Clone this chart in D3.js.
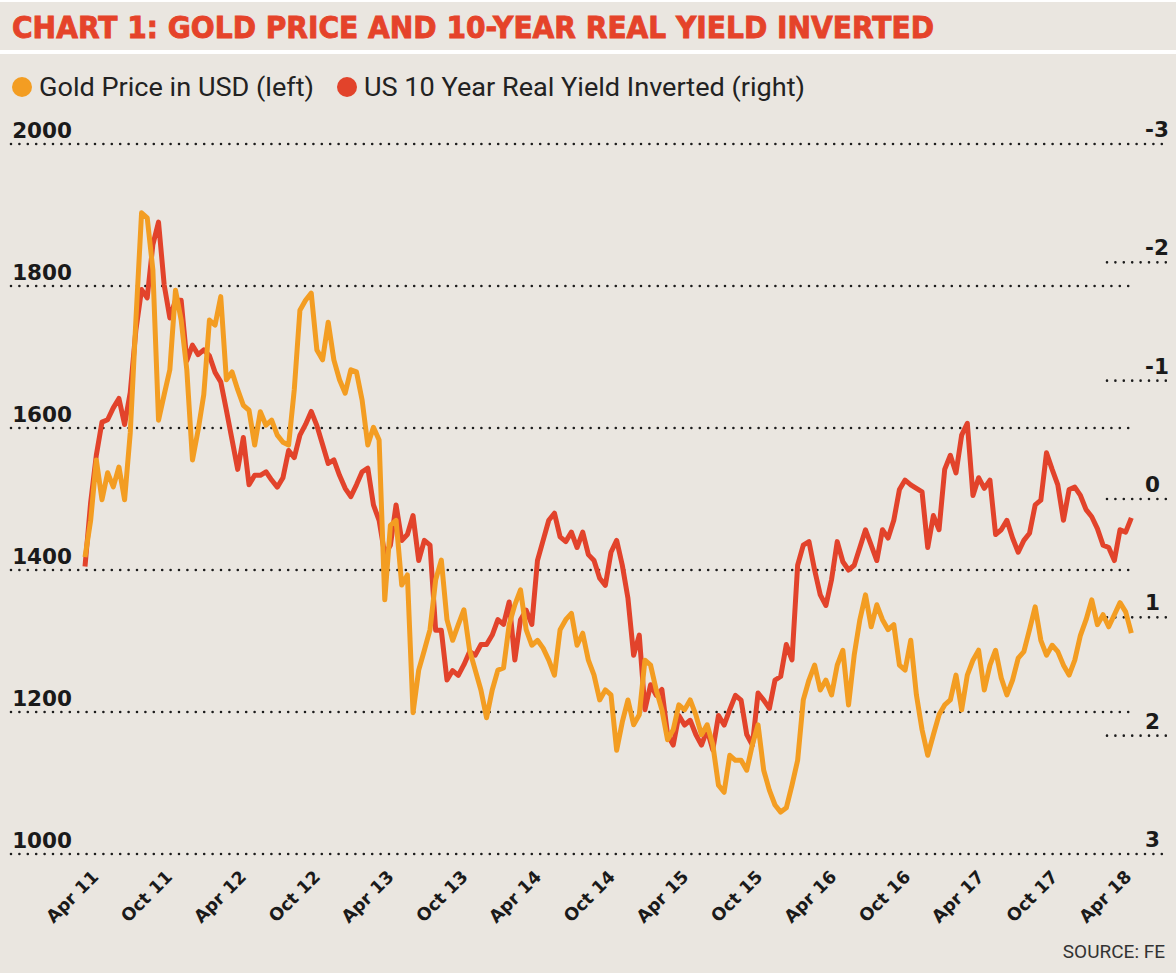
<!DOCTYPE html>
<html>
<head>
<meta charset="utf-8">
<script src="https://cdn.jsdelivr.net/npm/d3@7"></script>
<style>
  body { margin: 0; background: #eae6e0; }
  svg { display: block; }
</style>
</head>
<body>
<div id="chart"></div>
<script>
// fortnightly readings, first one at 1 Apr 2011
var startDate = new Date(2011, 3, 1)
var stepDays = 14

// gold price, USD (left axis)
var gold = [
  1418, 1470, 1555, 1499, 1537, 1517, 1545, 1499, 1593, 1752,
  1903, 1896, 1823, 1611, 1647, 1682, 1794, 1752, 1682, 1555,
  1597, 1647, 1752, 1745, 1785, 1668, 1679, 1654, 1632, 1625,
  1576, 1623, 1604, 1611, 1590, 1580, 1576, 1654, 1766, 1780,
  1790, 1710, 1696, 1749, 1696, 1668, 1649, 1682, 1679, 1639,
  1576, 1601, 1583, 1358, 1463, 1470, 1379, 1393, 1199, 1259,
  1287, 1316, 1386, 1414, 1330, 1301, 1323, 1344, 1287, 1259,
  1231, 1192, 1231, 1259, 1262, 1323, 1351, 1372, 1316, 1294,
  1301, 1290, 1273, 1252, 1316, 1330, 1339, 1294, 1311, 1273,
  1252, 1217, 1231, 1224, 1146, 1186, 1217, 1182, 1196, 1273,
  1266, 1231, 1203, 1161, 1175, 1210, 1203, 1217, 1196, 1168,
  1182, 1154, 1097, 1087, 1139, 1132, 1132, 1118, 1154, 1182,
  1118, 1090, 1069, 1059, 1065, 1097, 1132, 1217, 1245, 1266,
  1231, 1245, 1224, 1266, 1287, 1210, 1280, 1330, 1365, 1320,
  1351, 1330, 1316, 1323, 1266, 1259, 1301, 1224, 1175, 1139,
  1168, 1196, 1210, 1217, 1252, 1203, 1252, 1273, 1287, 1231,
  1266, 1287, 1248, 1224, 1245, 1276, 1285, 1316, 1348, 1301,
  1280, 1294, 1285, 1266, 1252, 1273, 1308, 1330, 1358, 1323,
  1337, 1320, 1337, 1354, 1341, 1311
]

// US 10 year real yield, % (right axis, drawn inverted)
var realYield = [
  0.57, 0.03, -0.37, -0.65, -0.67, -0.77, -0.85, -0.63, -0.90, -1.43,
  -1.77, -1.70, -2.15, -2.34, -1.81, -1.53, -1.68, -1.68, -1.17, -1.30,
  -1.22, -1.26, -1.21, -1.07, -0.99, -0.75, -0.50, -0.25, -0.52, -0.12,
  -0.20, -0.20, -0.23, -0.16, -0.10, -0.18, -0.41, -0.35, -0.54, -0.63,
  -0.74, -0.62, -0.46, -0.30, -0.33, -0.20, -0.09, -0.02, -0.12, -0.23,
  -0.26, 0.05, 0.18, 0.47, 0.39, 0.05, 0.35, 0.30, 0.14, 0.52,
  0.35, 0.39, 1.11, 1.11, 1.53, 1.45, 1.49, 1.40, 1.29, 1.32,
  1.23, 1.23, 1.15, 1.02, 1.06, 0.87, 1.36, 1.02, 0.94, 1.06,
  0.52, 0.35, 0.18, 0.12, 0.32, 0.36, 0.28, 0.41, 0.28, 0.47,
  0.52, 0.67, 0.73, 0.45, 0.35, 0.56, 0.84, 1.32, 1.15, 1.78,
  1.57, 1.66, 1.61, 1.99, 2.08, 1.83, 1.91, 1.87, 1.99, 2.08,
  1.95, 2.12, 1.83, 1.91, 1.78, 1.66, 1.70, 1.99, 2.08, 1.64,
  1.70, 1.77, 1.53, 1.50, 1.23, 1.36, 0.56, 0.39, 0.36, 0.60,
  0.81, 0.90, 0.68, 0.36, 0.53, 0.60, 0.56, 0.41, 0.26, 0.39,
  0.52, 0.26, 0.33, 0.18, -0.08, -0.16, -0.12, -0.09, -0.06, 0.41,
  0.14, 0.26, -0.25, -0.37, -0.22, -0.54, -0.64, -0.03, -0.18, -0.09,
  -0.16, 0.30, 0.26, 0.18, 0.33, 0.45, 0.35, 0.29, 0.05, 0.01,
  -0.39, -0.25, -0.12, 0.18, -0.08, -0.10, -0.03, 0.09, 0.15, 0.25,
  0.39, 0.41, 0.52, 0.26, 0.28, 0.16
]

var goldTicks = [1000, 1200, 1400, 1600, 1800, 2000]
var yieldTicks = [-3, -2, -1, 0, 1, 2, 3]
var xTickLabels = ['Apr 11', 'Oct 11', 'Apr 12', 'Oct 12', 'Apr 13', 'Oct 13', 'Apr 14', 'Oct 14',
                   'Apr 15', 'Oct 15', 'Apr 16', 'Oct 16', 'Apr 17', 'Oct 17', 'Apr 18']

var width = 1176, height = 973
var gold_color = '#f39d22', yield_color = '#e2432b'
var boldFont = '"DejaVu Sans", sans-serif'

var svg = d3.select('#chart').html('').append('svg')
  .attr('width', width).attr('height', height)

svg.append('rect').attr('width', width).attr('height', height).attr('fill', '#eae6e0')
svg.append('rect').attr('y', 0).attr('width', width).attr('height', 2).attr('fill', '#fff')
svg.append('rect').attr('y', 50).attr('width', width).attr('height', 4).attr('fill', '#fff')

// title
svg.append('text')
  .attr('x', 12).attr('y', 38)
  .attr('textLength', 922).attr('lengthAdjust', 'spacingAndGlyphs')
  .style('font-family', boldFont).style('font-weight', 'bold').style('font-size', '30px')
  .attr('fill', '#e5432a').attr('stroke', '#e5432a').attr('stroke-width', 0.9)
  .text('CHART 1: GOLD PRICE AND 10-YEAR REAL YIELD INVERTED')

// legend
var legend = [
  {label: 'Gold Price in USD (left)', color: gold_color, x: 22, len: 275},
  {label: 'US 10 Year Real Yield Inverted (right)', color: yield_color, x: 347, len: 441}
]
var lg = svg.selectAll('g.legend').data(legend).enter().append('g').attr('class', 'legend')
lg.append('circle').attr('cx', function(d){ return d.x }).attr('cy', 87).attr('r', 10)
  .attr('fill', function(d){ return d.color })
lg.append('text')
  .attr('x', function(d){ return d.x + 17 }).attr('y', 96)
  .attr('textLength', function(d){ return d.len }).attr('lengthAdjust', 'spacingAndGlyphs')
  .style('font-family', 'Roboto, sans-serif').style('font-size', '26px').attr('fill', '#222')
  .text(function(d){ return d.label })

// scales
var parseTick = d3.timeParse('%b %y')
var tickDates = xTickLabels.map(parseTick)

var x_scale = d3.scaleTime()
  .domain([new Date(2011, 3, 1), new Date(2018, 3, 1)])
  .range([85, 1118])

var y_gold = d3.scaleLinear().domain([1000, 2000]).range([854, 144])
var y_yield = d3.scaleLinear().domain([-3, 3]).range([144, 854])

var dotted = function(sel){
  sel.attr('stroke', '#1c1c1c').attr('stroke-width', 2.6)
    .attr('stroke-linecap', 'round').attr('stroke-dasharray', '0 8.4')
}

// left gridlines; the ones that meet a right tick run on to the right edge
var yieldPos = yieldTicks.map(y_yield)
svg.selectAll('line.ggrid').data(goldTicks).enter().append('line')
  .attr('class', 'ggrid')
  .attr('x1', 11)
  .attr('x2', function(d){
    var y = y_gold(d)
    return yieldPos.some(function(p){ return Math.abs(p - y) < 1 }) ? 1163 : 1130
  })
  .attr('y1', function(d){ return y_gold(d) }).attr('y2', function(d){ return y_gold(d) })
  .call(dotted)

var goldPos = goldTicks.map(y_gold)
svg.selectAll('line.ygrid')
  .data(yieldTicks.filter(function(d){
    return !goldPos.some(function(p){ return Math.abs(p - y_yield(d)) < 1 })
  }))
  .enter().append('line').attr('class', 'ygrid')
  .attr('x1', 1107).attr('x2', 1167)
  .attr('y1', function(d){ return y_yield(d) }).attr('y2', function(d){ return y_yield(d) })
  .call(dotted)

svg.selectAll('text.gtick').data(goldTicks).enter().append('text')
  .attr('class', 'gtick')
  .attr('x', 72).attr('y', function(d){ return y_gold(d) - 6 })
  .attr('text-anchor', 'end')
  .style('font-family', boldFont).style('font-weight', 'bold').style('font-size', '21.5px')
  .attr('fill', '#1a1a1a')
  .text(function(d){ return d })

svg.selectAll('text.ytick').data(yieldTicks).enter().append('text')
  .attr('class', 'ytick')
  .attr('x', 1145).attr('y', function(d){ return y_yield(d) - 7 })
  .style('font-family', boldFont).style('font-weight', 'bold').style('font-size', '21.5px')
  .attr('fill', '#1a1a1a')
  .text(function(d){ return d })

// x axis
var xAxis = svg.append('g')
  .attr('transform', 'translate(0,878)')
  .call(d3.axisBottom(x_scale).tickValues(tickDates).tickSize(0).tickFormat(d3.timeFormat('%b %y')))
xAxis.select('.domain').remove()
xAxis.selectAll('text')
  .attr('y', 0).attr('dy', 0)
  .attr('transform', 'translate(14,0) rotate(-45)')
  .style('text-anchor', 'end')
  .style('font-family', boldFont).style('font-weight', 'bold').style('font-size', '17.5px')
  .attr('fill', '#1a1a1a')

// lines
var dateAt = function(i){ return d3.timeDay.offset(startDate, i * stepDays) }

var yieldLine = d3.line()
  .x(function(d, i){ return x_scale(dateAt(i)) })
  .y(function(d){ return y_yield(d) })
var goldLine = d3.line()
  .x(function(d, i){ return x_scale(dateAt(i)) })
  .y(function(d){ return y_gold(d) })

svg.append('path').datum(realYield)
  .attr('d', yieldLine).attr('fill', 'none')
  .attr('stroke', yield_color).attr('stroke-width', 5).attr('stroke-linejoin', 'round')
svg.append('path').datum(gold)
  .attr('d', goldLine).attr('fill', 'none')
  .attr('stroke', gold_color).attr('stroke-width', 5).attr('stroke-linejoin', 'round')

// source
svg.append('text')
  .attr('x', 1165).attr('y', 958).attr('text-anchor', 'end')
  .style('font-family', 'Roboto, sans-serif').style('font-size', '19px').attr('fill', '#333')
  .text('SOURCE: FE')
</script>
</body>
</html>
